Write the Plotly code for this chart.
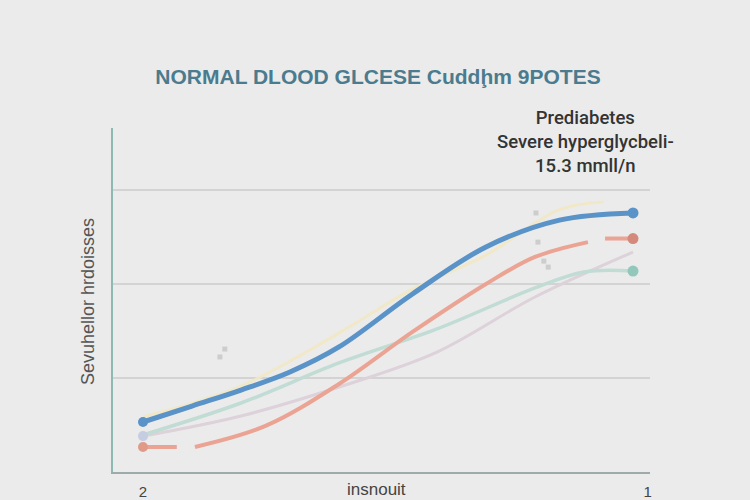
import plotly.graph_objects as go

# ---- data ----
blue_x = [0, 1, 2, 3, 4, 5.5, 7, 8.5, 10]
blue_y = [2.66, 3.51, 4.36, 5.32, 6.65, 9.47, 11.97, 13.40, 13.78]

mint_x = [0, 2, 4, 6, 8, 9, 10]
mint_y = [1.97, 3.67, 5.80, 7.61, 9.79, 10.64, 10.69]

lav_x = [0, 2, 4, 6, 8, 10]
lav_y = [1.91, 2.98, 4.52, 6.38, 9.31, 11.70]

yellow_x = [0, 2, 4, 5.5, 7, 8.5, 9.4]
yellow_y = [2.93, 4.57, 7.39, 9.73, 11.54, 13.96, 14.36]

red_x = [1.06, 2.5, 4, 5.5, 7, 8, 9.08]
red_y = [1.33, 2.45, 4.68, 7.45, 10.00, 11.44, 12.23]
red_left_x = [0, 0.69]
red_left_y = [1.33, 1.33]
red_right_x = [9.43, 10]
red_right_y = [12.42, 12.42]

dots_x = [1.67, 1.57, 8.02, 8.06, 8.18, 8.27]
dots_y = [6.54, 6.12, 13.78, 12.23, 11.22, 10.90]

tick_vals = [0, 10.3]
tick_text = ["2", "1"]

title_text = "NORMAL DLOOD GLCESE Cuddḩm 9POTES"
note_lines = ["Prediabetes", "Severe hyperglycbeli-", "15.3 mmll/n"]
x_title = "insnouit"
y_title = "Sevuhellor hrdoisses"

BG = "#ebebeb"

fig = go.Figure()

def line(x, y, color, width):
    fig.add_trace(go.Scatter(x=x, y=y, mode="lines",
                             line=dict(color=color, width=width, shape="spline", smoothing=1),
                             hoverinfo="skip", showlegend=False))

line(yellow_x, yellow_y, "rgba(242,232,196,0.9)", 3)
line(lav_x, lav_y, "#ddd1da", 3)
line(mint_x, mint_y, "#c0dcd4", 3.5)
line(red_x, red_y, "#eba393", 4)
line(red_left_x, red_left_y, "#eba393", 4)
line(red_right_x, red_right_y, "#eba393", 4)
line(blue_x, blue_y, "#5a93c8", 5)

fig.add_trace(go.Scatter(x=dots_x, y=dots_y, mode="markers",
                         marker=dict(symbol="square", size=5, color="#cdcdcd"),
                         hoverinfo="skip", showlegend=False))

# end markers
fig.add_trace(go.Scatter(x=[blue_x[0], lav_x[0], red_left_x[0]],
                         y=[blue_y[0], lav_y[0], red_left_y[0]], mode="markers",
                         marker=dict(size=10, color=["#5a93c8", "#c6cce2", "#e09a88"]),
                         hoverinfo="skip", showlegend=False))
fig.add_trace(go.Scatter(x=[blue_x[-1], red_right_x[-1], mint_x[-1]],
                         y=[blue_y[-1], red_right_y[-1], mint_y[-1]], mode="markers",
                         marker=dict(size=11, color=["#5a93c8", "#d38a7a", "#92c7bb"]),
                         hoverinfo="skip", showlegend=False))

fig.update_layout(
    width=750, height=500,
    margin=dict(l=113, r=100, t=128, b=28),
    paper_bgcolor=BG, plot_bgcolor=BG,
    font=dict(family="Liberation Sans, Arial, sans-serif", color="#444"),
    title=dict(text="<b>" + title_text + "</b>", x=0.504, xanchor="center",
               y=1 - 77 / 500, yanchor="middle",
               font=dict(size=21, color="#4b7b8e", family="Liberation Sans, Arial, sans-serif")),
    showlegend=False,
)
fig.update_xaxes(range=[-0.612, 10.347], showgrid=False, zeroline=False,
                 showline=True, linecolor="#9fabaa", linewidth=2, automargin=False,
                 tickvals=tick_vals, ticktext=tick_text, ticks="outside",
                 ticklen=5, tickcolor="rgba(0,0,0,0)",
                 tickfont=dict(size=15, color="#444"))
fig.update_yaxes(range=[0, 18.3], dtick=5, showgrid=True, gridcolor="#d3d3d3",
                 gridwidth=1.5, zeroline=False, showline=True, automargin=False,
                 linecolor="#8dbab0", linewidth=2, showticklabels=False, ticks="")

fig.add_annotation(text="<br>".join(note_lines), xref="paper", yref="paper",
                   x=(585 - 113) / 537, y=(472 - 142) / 344,
                   xanchor="center", yanchor="middle", showarrow=False, align="center",
                   font=dict(size=18.5, color="#333", family="Roboto, sans-serif", weight=500))
fig.add_annotation(text=x_title, xref="paper", yref="paper",
                   x=(376 - 113) / 537, y=(472 - 489) / 344,
                   xanchor="center", yanchor="middle", showarrow=False,
                   font=dict(size=17, color="#444"))
fig.add_annotation(text=y_title, xref="paper", yref="paper",
                   x=(88 - 113) / 537, y=(472 - 302) / 344, textangle=-90,
                   xanchor="center", yanchor="middle", showarrow=False,
                   font=dict(size=18, color="#555"))

fig.write_html("out.html", config={"displayModeBar": False},
               post_script="document.body.style.margin='0px';")
